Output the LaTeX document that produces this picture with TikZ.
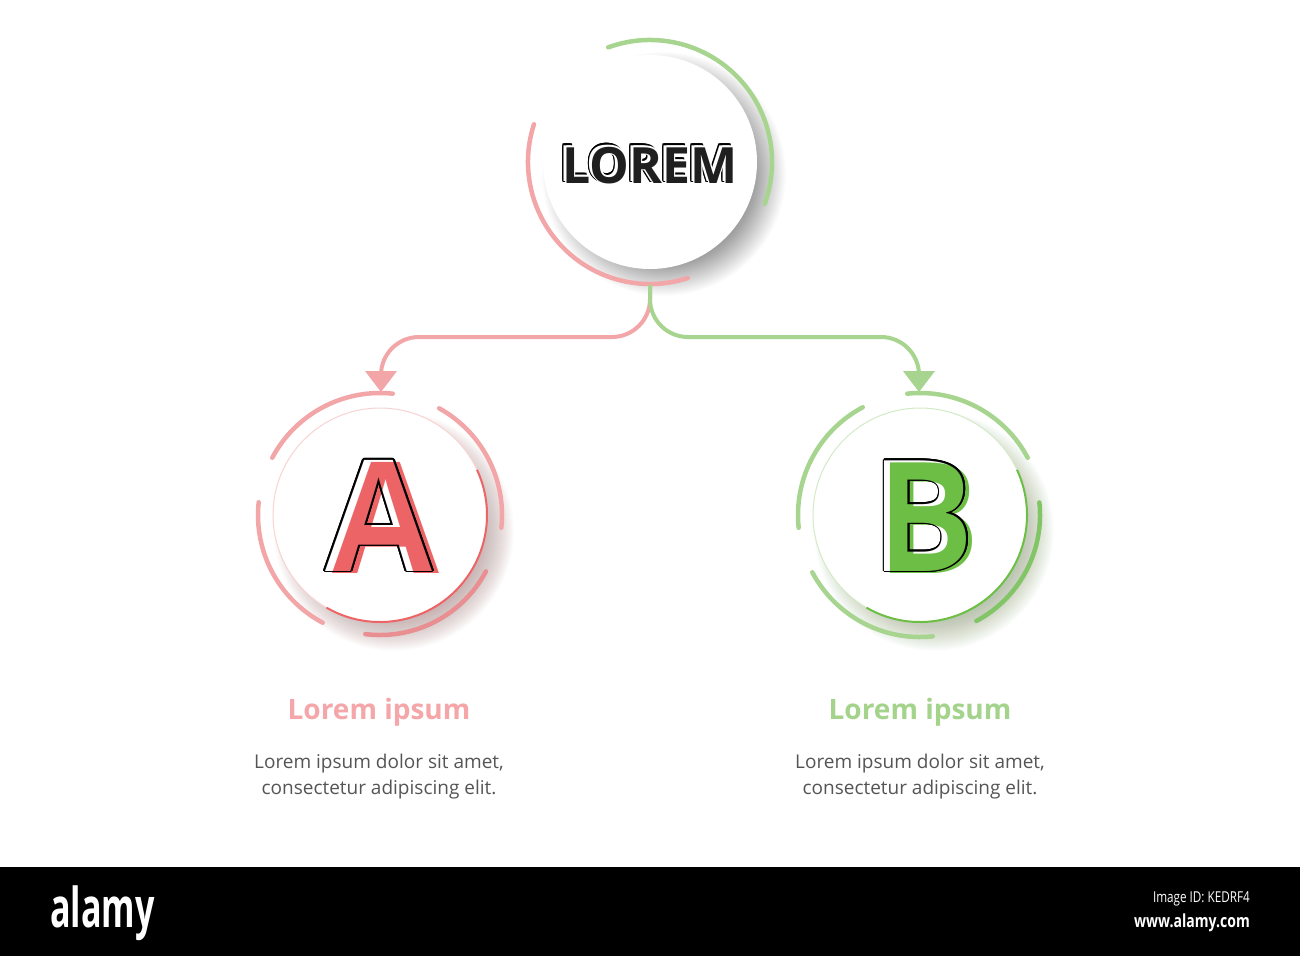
\documentclass[tikz,border=0pt]{standalone}
\usepackage{fontspec}
\setmainfont{Open Sans}
\usetikzlibrary{calc}
\definecolor{pinkline}{HTML}{F2A6A8}
\definecolor{pinkdark}{HTML}{E98E91}
\definecolor{redA}{HTML}{EC6466}
\definecolor{greenline}{HTML}{A7D58F}
\definecolor{greendark}{HTML}{82C566}
\definecolor{greenB}{HTML}{6CBE45}
\definecolor{bodygray}{HTML}{555555}
\definecolor{titlepink}{HTML}{F4A6A9}
\definecolor{titlegreen}{HTML}{A4D38B}
\newcommand\mysoftshadow[4]{% center, color, radius, offset
  \foreach \k in {0,...,32} {\fill[#2, opacity=0.012] ($(#1)+(#4)$) circle[radius=#3+16-\k];}}
\newcommand\myoutlined[4]{% position, style, text, thickness
  \foreach \ang in {0,30,...,330} {\node[#2, text=black] at ($(#1)+(\ang:#4)$) {#3};}
  \node[#2, text=white] at (#1) {#3};}
\tikzset{
  disc/.style={circle, fill=white, minimum size=214pt, inner sep=0pt},
  ringarc/.style={line width=4.5pt, line cap=round},
  conn/.style={line width=4pt, rounded corners=38pt},
  bigletter/.style={font=\fontsize{155}{155}\bfseries\selectfont, inner sep=0pt, anchor=base},
  lorfont/.style={font=\fontsize{50}{50}\bfseries\selectfont, inner sep=0pt, anchor=base},
  titletext/.style={font=\fontsize{28}{30}\bfseries\selectfont, anchor=base},
  bodytext/.style={font=\fontsize{19}{26}\selectfont, text=bodygray, anchor=base},
}
\begin{document}
\begin{tikzpicture}[x=1pt,y=-1pt]
\useasboundingbox (0,0) rectangle (1300,956);
\fill[white] (0,0) rectangle (1300,956);

% ---------- top node ----------
\coordinate (T) at (650,162);
\mysoftshadow{T}{black}{106}{14,12}
\node[disc] (top) at (T) {};
\coordinate (lorA) at (647,181);
\coordinate (lorB) at (650,183);
\myoutlined{lorA}{lorfont}{LOREM}{1.3}
\foreach \ang in {0,45,...,315} {\node[lorfont, text=white] at ($(lorB)+(\ang:1.4)$) {LOREM};}
\node[lorfont, text=black!88] (lorem) at (lorB) {LOREM};
\draw[ringarc, pinkline] (T) ++(-162:122) arc[start angle=-162, end angle=-288, radius=122];
\draw[ringarc, greenline] (T) ++(-110:122) arc[start angle=-110, end angle=20, radius=122];

% ---------- node A ----------
\coordinate (cA) at (380,515);
\mysoftshadow{cA}{redA!55!black}{104}{14,16}
\node[disc] (A) at (cA) {};
\draw[pinkline!50, line width=1pt] (cA) circle[radius=107];
\draw[redA, line width=2pt] (cA) ++(120:107) arc[start angle=120, end angle=-25, radius=107];
\draw[ringarc, pinkline] (cA) ++(-84:122) arc[start angle=-84, end angle=-152, radius=122];
\draw[ringarc, pinkline] (cA) ++(6:122) arc[start angle=6, end angle=-61, radius=122];
\draw[ringarc, pinkline] (cA) ++(-174:122) arc[start angle=-174, end angle=-242, radius=122];
\draw[ringarc, pinkdark] (cA) ++(-263:120) arc[start angle=-263, end angle=-332, radius=120];
\coordinate (Apos) at (379,571);
\myoutlined{Apos}{bigletter}{A}{1.8}
\begin{scope}[blend mode=multiply]
\node[bigletter, text=redA] (Afill) at (386,573) {A};
\end{scope}

% ---------- node B ----------
\coordinate (cB) at (920,515);
\mysoftshadow{cB}{greenB!65!black}{104}{14,16}
\node[disc] (B) at (cB) {};
\draw[greenline!50, line width=1pt] (cB) circle[radius=107];
\draw[greenB, line width=2pt] (cB) ++(120:107) arc[start angle=120, end angle=-25, radius=107];
\draw[ringarc, greenline] (cB) ++(-28:122) arc[start angle=-28, end angle=-96, radius=122];
\draw[ringarc, greenline] (cB) ++(-118:122) arc[start angle=-118, end angle=-186, radius=122];
\draw[ringarc, greenline] (cB) ++(-208:122) arc[start angle=-208, end angle=-276, radius=122];
\draw[ringarc, greendark] (cB) ++(62:120) arc[start angle=62, end angle=-6, radius=120];
\coordinate (Bpos) at (923,571);
\myoutlined{Bpos}{bigletter}{B}{1.8}
\begin{scope}[blend mode=multiply]
\node[bigletter, text=greenB] (Bfill) at (929,573) {B};
\end{scope}

% ---------- connectors ----------
\coordinate (stem) at (650,285);
\coordinate (mid) at (0,337);
\coordinate (tipA) at (381,392);
\coordinate (tipB) at (919,392);
\coordinate (headA) at (381,371);
\coordinate (headB) at (919,371);
\draw[conn, pinkline] (stem) -- (stem |- mid) -- (headA |- mid) -- (headA);
\draw[conn, greenline] (stem) -- (stem |- mid) -- (headB |- mid) -- (headB);
\fill[pinkline] (tipA) -- ($(headA)+(-16,0)$) -- ($(headA)+(16,0)$) -- cycle;
\fill[greenline] (tipB) -- ($(headB)+(-16,0)$) -- ($(headB)+(16,0)$) -- cycle;

% ---------- texts ----------
\node[titletext, text=titlepink] (tA) at (379,719) {Lorem ipsum};
\node[titletext, text=titlegreen] (tB) at (920,719) {Lorem ipsum};
\node[bodytext] (bA1) at (379,768) {Lorem ipsum dolor sit amet,};
\node[bodytext] (bA2) at (379,794) {consectetur adipiscing elit.};
\node[bodytext] (bB1) at (920,768) {Lorem ipsum dolor sit amet,};
\node[bodytext] (bB2) at (920,794) {consectetur adipiscing elit.};

% ---------- footer ----------
\fill[black] (0,867) rectangle (1300,956);
\node[text=white, font=\fontsize{55}{55}\bfseries\selectfont, anchor=base west, inner sep=0pt] (alamy) at (50,927) {\scalebox{0.62}[1]{alamy}};
\node[text=white, font=\fontsize{15}{15}\selectfont, anchor=base east, inner sep=0pt] (imgid) at (1250,902) {\scalebox{0.78}[1]{Image ID: KEDRF4}};
\node[text=white, font=\fontsize{18}{18}\bfseries\selectfont, anchor=base east, inner sep=0pt] (www) at (1250,927) {\scalebox{0.78}[1]{www.alamy.com}};
\end{tikzpicture}
\end{document}
